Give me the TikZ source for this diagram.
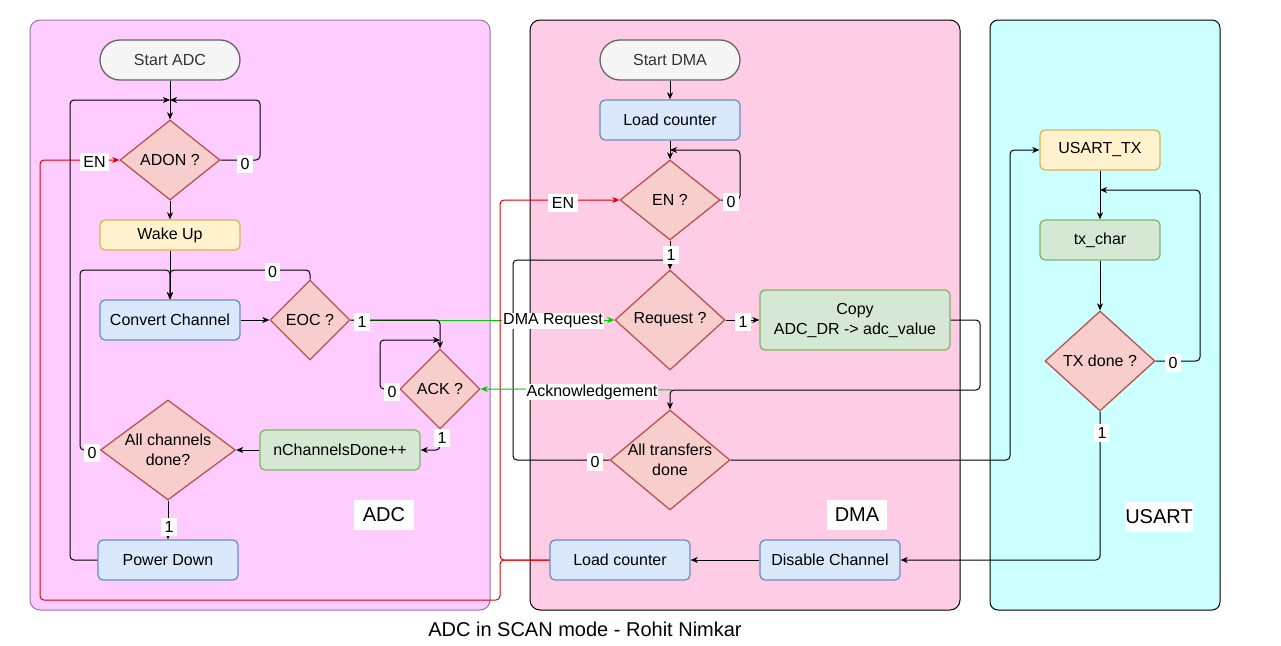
\documentclass[tikz,border=0pt]{standalone}
\usepackage{fontspec}
\setmainfont{Liberation Sans}
\usetikzlibrary{shapes.geometric,arrows.meta}
\definecolor{adcfill}{HTML}{FFCCFF}
\definecolor{adcdraw}{HTML}{9673A6}
\definecolor{dmafill}{HTML}{FFCCE6}
\definecolor{usfill}{HTML}{CCFFFF}
\definecolor{termfill}{HTML}{F5F5F5}
\definecolor{termdraw}{HTML}{666666}
\definecolor{termtext}{HTML}{333333}
\definecolor{blufill}{HTML}{DAE8FC}
\definecolor{bludraw}{HTML}{6C8EBF}
\definecolor{yelfill}{HTML}{FFF2CC}
\definecolor{yeldraw}{HTML}{D6B656}
\definecolor{grnfill}{HTML}{D5E8D4}
\definecolor{grndraw}{HTML}{82B366}
\definecolor{diafill}{HTML}{F8CECC}
\definecolor{diadraw}{HTML}{B85450}
\definecolor{redline}{HTML}{E00000}
\definecolor{grnline}{HTML}{00CC00}
\begin{document}
\begin{tikzpicture}[x=1pt,y=-1pt,
  font=\fontsize{16}{20}\selectfont,
  base/.style={draw, line width=1.3pt, inner sep=0pt},
  term/.style={base, rounded corners=20pt, fill=termfill, draw=termdraw, text=termtext, minimum width=140pt, minimum height=40pt},
  blu/.style={base, rounded corners=5pt, fill=blufill, draw=bludraw},
  yel/.style={base, rounded corners=5pt, fill=yelfill, draw=yeldraw},
  grn/.style={base, rounded corners=5pt, fill=grnfill, draw=grndraw},
  dia/.style={base, diamond, aspect=1, fill=diafill, draw=diadraw},
  txt/.style={align=center, inner sep=0pt},
  lab/.style={fill=white, inner xsep=3.5pt, inner ysep=3.5pt},
  clab/.style={fill=white, inner sep=0pt, minimum height=30pt, font=\fontsize{20}{24}\selectfont},
  e/.style={line width=1pt, rounded corners=4pt, -{Stealth[length=7pt,width=6pt,inset=2pt]}},
  ge/.style={e, draw=grnline, -{Stealth[length=7pt,width=6pt,inset=2pt,fill=grnline]}},
  re/.style={e, draw=redline, -{Stealth[length=7pt,width=6pt,inset=2pt,fill=redline]}},
  ln/.style={line width=1pt, rounded corners=4pt}
]
\useasboundingbox (0,0) rectangle (1281,645);
% containers
\draw[fill=adcfill, draw=adcdraw, rounded corners=10pt, line width=1pt] (30,20) rectangle (490,610);
\draw[fill=dmafill, draw=black, rounded corners=10pt, line width=1pt] (530,20) rectangle (960,610);
\draw[fill=usfill, draw=black, rounded corners=8pt, line width=1pt] (990,20) rectangle (1220,610);

% ADC nodes
\node[term] (sadc) at (170,60) {Start ADC};
\node[dia, minimum width=100pt, minimum height=80pt] (adon) at (170,160) {ADON ?};
\node[yel, minimum width=140pt, minimum height=30pt] (wake) at (170,235) {Wake Up};
\node[blu, minimum width=140pt, minimum height=40pt] (conv) at (170,320) {Convert Channel};
\node[dia, minimum width=80pt, minimum height=80pt] (eoc) at (310,320) {EOC ?};
\node[dia, minimum width=80pt, minimum height=80pt] (ack) at (440,389) {ACK ?};
\node[grn, minimum width=160pt, minimum height=40pt] (ncd) at (340,450) {nChannelsDone++};
\node[dia, minimum width=135pt, minimum height=100pt] (acd) at (168,450) {};
\node[txt] (acdt) at (168,450) {All channels\\done?};
\node[blu, minimum width=140pt, minimum height=40pt] (pd) at (168,560) {Power Down};

% DMA nodes
\node[term] (sdma) at (670,60) {Start DMA};
\node[blu, minimum width=140pt, minimum height=40pt] (lc1) at (670,120) {Load counter};
\node[dia, minimum width=100pt, minimum height=80pt] (en) at (670,200) {EN ?};
\node[dia, minimum width=110pt, minimum height=100pt] (req) at (670,320) {Request ?};
\node[grn, minimum width=190pt, minimum height=60pt, align=center] (copy) at (855,320) {Copy\\ADC\_DR -> adc\_value};
\node[dia, minimum width=120pt, minimum height=100pt] (atd) at (670,460) {};
\node[txt] (atdt) at (670,460) {All transfers\\done};
\node[blu, minimum width=140pt, minimum height=40pt] (lc2) at (620,560) {Load counter};
\node[blu, minimum width=140pt, minimum height=40pt] (dis) at (830,560) {Disable Channel};

% USART nodes
\node[yel, minimum width=120pt, minimum height=40pt] (utx) at (1100,150) {USART\_TX};
\node[grn, minimum width=120pt, minimum height=40pt] (txc) at (1100,240) {tx\_char};
\node[dia, minimum width=110pt, minimum height=100pt] (txd) at (1100,361) {TX done ?};

% junction coordinates
\coordinate (j1) at (170,100);
\coordinate (j2) at (170,270);
\coordinate (j3) at (440,340);
\coordinate (j4) at (670,150);
\coordinate (j5) at (670,260);
\coordinate (j6) at (1100,190);
\coordinate (j7) at (672,390);

% ADC edges
\draw[e] (sadc.south) -- (adon.north);
\draw[e] (pd.west) -| (70,100) -- (j1);
\draw[e] (adon.east) -| (260,100) -- (j1);
\draw[e] (adon.south) -- (wake.north);
\draw[e] (wake.south) -- (conv.north);
\draw[e] (eoc.north) |- (j2) -- (conv.north);
\draw[e] (acd.west) -| (80,270) -- (j2) -- (conv.north);
\draw[e] (conv.east) -- (eoc.west);
\draw[ge] (eoc.east) -- (req.west);
\draw[e] (eoc.east) -| (ack.north);
\draw[e] (ack.west) -| (380,340) -- (j3);
\draw[e] (ack.south) |- (ncd.east);
\draw[e] (ncd.west) -- (acd.east);
\draw[e] (acd.south) -- (pd.north);

% red EN edges
\draw[re] (lc2.west) -- (500,560) |- (en.west);
\draw[re] (lc2.west) -- (500,560) -- (500,600) -- (40,600) |- (adon.west);

% DMA edges
\draw[e] (sdma.south) -- (lc1.north);
\draw[e] (lc1.south) -- (en.north);
\draw[e] (en.east) -| (740,150) -- (j4);
\draw[e] (en.south) -- (req.north);
\draw[e] (atd.west) -| (513,260) -- (j5);
\draw[e] (req.east) -- (copy.west);
\draw[ge] (j7) -- (ack.east);
\draw[e] (copy.east) -- (980,320) |- (670,390) -- (atd.north);
\draw[e] (atd.east) -| (1010,150) -- (utx.west);
\draw[e] (dis.west) -- (lc2.east);
\draw[e] (txd.south) |- (dis.east);

% USART edges
\draw[e] (utx.south) -- (txc.north);
\draw[e] (txc.south) -- (txd.north);
\draw[e] (txd.east) -| (1200,190) -- (j6);

% edge labels
\node[lab] (l1) at (245,164) {0};
\node[lab] (l2) at (94.5,162) {EN};
\node[lab] (l3) at (272.5,272) {0};
\node[lab] (l4) at (362,322) {1};
\node[lab] (l5) at (392,392) {0};
\node[lab] (l6) at (442,438) {1};
\node[lab] (l7) at (92,453) {0};
\node[lab] (l8) at (169,527) {1};
\node[lab] (l9) at (563,203) {EN};
\node[lab] (l10) at (731,202) {0};
\node[lab] (l11) at (671,255) {1};
\node[lab, inner xsep=1pt, inner ysep=1pt] (l12) at (553,321) {DMA Request};
\node[lab] (l13) at (743,322) {1};
\node[lab, inner xsep=1pt, inner ysep=1pt] (l14) at (592,392) {Acknowledgement};
\node[lab] (l15) at (595,462) {0};
\node[lab] (l16) at (1173,363) {0};
\node[lab] (l17) at (1102,433) {1};

% container labels
\node[clab, minimum width=60pt] (adcl) at (384,515) {ADC};
\node[clab, minimum width=60pt] (dmal) at (857,515) {DMA};
\node[clab, minimum width=64pt] (usl) at (1159,517) {USART};

% title
\node[font=\fontsize{20}{24}\selectfont, inner sep=0pt] (title) at (585,629) {ADC in SCAN mode - Rohit Nimkar};
\end{tikzpicture}
\end{document}
